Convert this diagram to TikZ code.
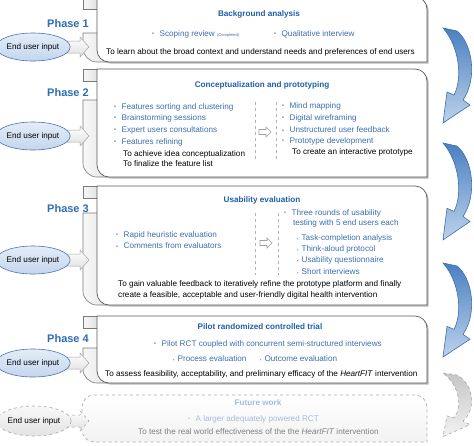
\documentclass[tikz,border=0pt]{standalone}
\usepackage{fontspec}
\setmainfont{Liberation Sans}
\usetikzlibrary{calc,shapes.geometric}
\definecolor{pblue}{HTML}{2E6DB4}
\definecolor{tblue}{HTML}{1F5FAA}
\definecolor{bblue}{HTML}{3D6FB0}
\definecolor{bord}{HTML}{5A5A5A}
\definecolor{elfill}{HTML}{C3D6EE}
\definecolor{elbord}{HTML}{4A76B0}
\definecolor{fgray}{HTML}{808080}
\definecolor{flblue}{HTML}{A3BEDC}
\definecolor{crdark}{HTML}{4A80C0}
\definecolor{crlight}{HTML}{BDD2EC}
\definecolor{crline}{HTML}{3F6FA8}
\newcommand\bul{{\fontsize{5.5}{5.5}\selectfont\raisebox{0.8pt}{•}}\hspace{5.5pt}}
\newcommand\subbul{{\fontsize{4}{4}\selectfont\raisebox{0pt}{▪}}\hspace{3pt}}
\tikzset{
 body/.style={font=\fontsize{8.15}{9}\selectfont, inner sep=0pt, anchor=west},
 ttl/.style={font=\fontsize{8.15}{9}\selectfont\bfseries, text=tblue, inner sep=0pt, anchor=center},
 blt/.style={body, text=bblue},
 phase/.style={font=\fontsize{11}{12}\selectfont\bfseries, text=pblue, inner sep=0pt},
 userin/.style={ellipse, draw=elbord, line width=0.6pt, top color=white!55!elfill, bottom color=elfill, minimum width=64pt, minimum height=28pt, inner sep=0pt, font=\fontsize{8.15}{9}\selectfont},
 mainbox/.style={draw=bord, line width=0.7pt, fill=white},
 shadowbox/.style={fill=gray!55},
 panel/.style={draw=bord!80, line width=0.6pt, left color=gray!6, right color=gray!22},
 blockarr/.style={draw=gray!70, line width=0.5pt, top color=white, bottom color=gray!25},
 dashsep/.style={draw=gray!60, dashed, line width=0.6pt},
 hollowarr/.style={draw=gray!75, line width=0.6pt, fill=white},
 bluecres/.style={draw=crline, line width=0.6pt, top color=crdark, bottom color=crlight},
 graycres/.style={draw=gray!70, dashed, line width=0.6pt, top color=gray!45, bottom color=gray!10},
}
\newcommand\phaseblock[3]{% #1 top, #2 bottom, #3 lower panel top
  \draw[panel] (83,#1) rectangle (97,{#1+12});
  \draw[panel] (112,#3) -- (83,#3) -- (83,{#2-14}) .. controls (83,{#2-6.3}) and (89.3,#2) .. (97,#2) -- (112,#2);
  \fill[shadowbox, shift={(1.6,1.6)}] (97,#1) -- (415,#1) .. controls (421.6,#1) and (427,{#1+5.4}) .. (427,{#1+12}) -- (427,#2) -- (109,#2) .. controls (102.4,#2) and (97,{#2-5.4}) .. (97,{#2-12}) -- cycle;
  \draw[mainbox] (97,#1) -- (415,#1) .. controls (421.6,#1) and (427,{#1+5.4}) .. (427,{#1+12}) -- (427,#2) -- (109,#2) .. controls (102.4,#2) and (97,{#2-5.4}) .. (97,{#2-12}) -- cycle;
}
\newcommand\blockarrow[2]{% #1 y, #2 style
  \draw[#2] (60,{#1-6}) -- (80,{#1-6}) -- (80,{#1-10}) -- (89,#1) -- (80,{#1+10}) -- (80,{#1+6}) -- (60,{#1+6}) -- cycle;
}
\newcommand\hollow[2]{% #1 x, #2 y
  \draw[hollowarr] ({#1-6},{#2-2.5}) -- ({#1+1},{#2-2.5}) -- ({#1+1},{#2-5}) -- ({#1+6},#2) -- ({#1+1},{#2+5}) -- ({#1+1},{#2+2.5}) -- ({#1-6},{#2+2.5}) -- cycle;
}
\newcommand\crescent[3]{% #1 y0, #2 yscale, #3 style
  \begin{scope}[shift={(0,#1)}, yscale=#2]
  \draw[#3] (443,0) -- (457,3) .. controls (472,15) and (478,50) .. (463,72) -- (470,77) -- (443,95) -- (447,64) -- (454,67) .. controls (463,50) and (459,18) .. (443,0) -- cycle;
  \end{scope}
}
\begin{document}
\begin{tikzpicture}[x=1pt,y=-1pt]
\useasboundingbox (0,0) rectangle (474,445);
\fill[white] (0,0) rectangle (474,445);

% ---------------- Phase 1
\phaseblock{-3}{62}{33}
\node[phase] (p1) at (68,24) {Phase 1};
\blockarrow{47}{blockarr}
\node[userin] (u1) at (33,47) {End user input};
\node[ttl] (t1) at (259,14) {Background analysis};
\node[blt] (b11) at (152,34) {\bul Scoping review {\fontsize{4}{4}\selectfont (Completed)}};
\node[blt] (b12) at (274,34) {\bul Qualitative interview};
\node[body] (d1) at (106,52) {To learn about the broad context and understand needs and preferences of end users};

% ---------------- Phase 2
\phaseblock{69}{177}{100}
\node[phase] (p2) at (68,93) {Phase 2};
\blockarrow{136}{blockarr}
\node[userin] (u2) at (33,136) {End user input};
\node[ttl] (t2) at (262,85) {Conceptualization and prototyping};
\node[blt] (b21) at (114,107) {\bul Features sorting and clustering};
\node[blt] (b22) at (114,118) {\bul Brainstorming sessions};
\node[blt] (b23) at (114,130) {\bul Expert users consultations};
\node[blt] (b24) at (114,142) {\bul Features refining};
\node[body] (d21) at (123,154) {To achieve idea conceptualization};
\node[body] (d22) at (123,164) {To finalize the feature list};
\coordinate (s21a) at (255,102); \coordinate (s21b) at (255,162);
\coordinate (s22a) at (276,102); \coordinate (s22b) at (276,162);
\draw[dashsep] (s21a) -- (s21b);
\draw[dashsep] (s22a) -- (s22b);
\hollow{265}{132}
\node[blt] (b25) at (282,106) {\bul Mind mapping};
\node[blt] (b26) at (282,118) {\bul Digital wireframing};
\node[blt] (b27) at (282,130) {\bul Unstructured user feedback};
\node[blt] (b28) at (282,141) {\bul Prototype development};
\node[body] (d23) at (292,152) {To create an interactive prototype};

% ---------------- Phase 3
\phaseblock{186}{305}{213}
\node[phase] (p3) at (68,209) {Phase 3};
\blockarrow{260}{blockarr}
\node[userin] (u3) at (33,260) {End user input};
\node[ttl] (t3) at (262,200) {Usability evaluation};
\node[blt] (b31) at (116,235) {\bul Rapid heuristic evaluation};
\node[blt] (b32) at (116,246) {\bul Comments from evaluators};
\coordinate (s31a) at (255,213); \coordinate (s31b) at (255,275);
\coordinate (s32a) at (278,213); \coordinate (s32b) at (278,275);
\draw[dashsep] (s31a) -- (s31b);
\draw[dashsep] (s32a) -- (s32b);
\hollow{266}{243}
\node[blt, align=left, anchor=north west] (b33) at (284,209) {\bul Three rounds of usability\\[1.5pt]\hspace{8.8pt}testing with 5 end users each};
\node[blt] (b34) at (297,238) {\subbul Task-completion analysis};
\node[blt] (b35) at (297,249) {\subbul Think-aloud protocol};
\node[blt] (b36) at (297,260) {\subbul Usability questionnaire};
\node[blt] (b37) at (297,272) {\subbul Short interviews};
\node[body] (d31) at (118,284) {To gain valuable feedback to iteratively refine the prototype platform and finally};
\node[body] (d32) at (118,295) {create a feasible, acceptable and user-friendly digital health intervention};

% ---------------- Phase 4
\phaseblock{316}{383}{348}
\node[phase] (p4) at (68,339) {Phase 4};
\blockarrow{363}{blockarr}
\node[userin] (u4) at (33,363) {End user input};
\node[ttl] (t4) at (260,327) {Pilot randomized controlled trial};
\node[blt] (b41) at (154,344) {\bul Pilot RCT coupled with concurrent semi-structured interviews};
\node[blt] (b42) at (173,359) {\subbul Process evaluation};
\node[blt] (b43) at (260,359) {\subbul Outcome evaluation};
\node[body] (d4) at (105,374) {To assess feasibility, acceptability, and preliminary efficacy of the \textit{HeartFIT} intervention};

% ---------------- Future work
\draw[draw=gray!65, dashed, line width=0.7pt, top color=white, bottom color=gray!10]
  (94,395) -- (415,395) .. controls (421.6,395) and (427,400.4) .. (427,407) -- (427,442) -- (94,442) .. controls (87.4,442) and (82,436.6) .. (82,430) -- (82,407) .. controls (82,400.4) and (87.4,395) .. (94,395) -- cycle;
\blockarrow{421}{blockarr, dashed}
\node[userin, draw=gray!70, dashed, top color=gray!5, bottom color=gray!22, minimum width=66pt, minimum height=30pt] (u5) at (34,421) {End user input};
\node[ttl, text=flblue] (t5) at (258,403) {Future work};
\node[blt, text=flblue] (b51) at (188,419) {\bul A larger adequately powered RCT};
\node[body, text=fgray] (d5) at (138,432) {To test the real world effectiveness of the the \textit{HeartFIT} intervention};

% ---------------- curved arrows
\crescent{28}{1}{bluecres}
\crescent{143}{1.02}{bluecres}
\crescent{263}{0.99}{bluecres}
\crescent{373}{0.67}{graycres}
\end{tikzpicture}
\end{document}
